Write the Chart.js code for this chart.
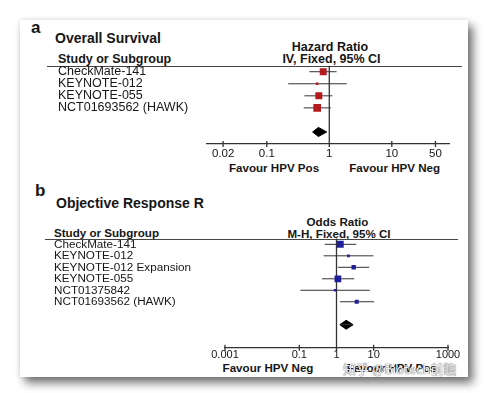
<!DOCTYPE html>
<html>
<head>
<meta charset="utf-8">
<script src="https://cdn.jsdelivr.net/npm/chart.js@4.4.1/dist/chart.umd.min.js"></script>
<style>
html, body { margin: 0; padding: 0; background: #fff; }
#page { position: relative; width: 484px; height: 393px; overflow: hidden; font-family: "Liberation Sans", Arial, sans-serif; color: #161616; }
#card { position: absolute; left: 20px; top: 20px; width: 448px; height: 357px; background: #fff;
        box-shadow: 5px 6px 9px rgba(0,0,0,0.55), 0 0 5px rgba(0,0,0,0.12); }
.t { position: absolute; white-space: nowrap; line-height: 1; }
.b { font-weight: bold; }
.c { transform: translateX(-50%); }
.rule { position: absolute; height: 0; border-top: 1.5px solid #444; }
canvas { position: absolute; left: 0; }
#wm { font-family: "Noto Sans CJK SC", sans-serif; font-size: 13px; color: rgba(255,255,255,0.9);
      text-shadow: 0 0 1px #555, 0 0 1px #555; }
</style>
</head>
<body>
<div id="page">
  <div id="card"></div>

  <div class="t b" style="left:31px;top:18.6px;font-size:17px">a</div>
  <div class="t b" style="left:55px;top:31.1px;font-size:14px">Overall Survival</div>
  <div class="t b c" style="left:330px;top:41.4px;font-size:12.5px">Hazard Ratio</div>
  <div class="t b c" style="left:331.5px;top:53.4px;font-size:12.5px">IV, Fixed, 95% CI</div>
  <div class="t b" style="left:58px;top:53.4px;font-size:12.5px">Study or Subgroup</div>
  <div class="rule" style="left:47px;top:65.5px;width:415px"></div>
  <div class="t b c" style="left:274px;top:161.9px;font-size:11.6px">Favour HPV Pos</div>
  <div class="t b c" style="left:394.7px;top:161.9px;font-size:11.6px">Favour HPV Neg</div>

  <div class="t b" style="left:35px;top:182.3px;font-size:17px">b</div>
  <div class="t b" style="left:56px;top:196.4px;font-size:14px">Objective Response R</div>
  <div class="t b c" style="left:337.5px;top:216.2px;font-size:11.6px">Odds Ratio</div>
  <div class="t b c" style="left:339px;top:227.5px;font-size:11.6px">M-H, Fixed, 95% CI</div>
  <div class="t b" style="left:54px;top:227.2px;font-size:11.6px">Study or Subgroup</div>
  <div class="rule" style="left:45px;top:238.6px;width:413px"></div>
  <div class="t b c" style="left:268px;top:361.9px;font-size:11.6px">Favour HPV Neg</div>
  <div class="t b c" style="left:391.7px;top:361.9px;font-size:11.6px">Favour HPV Pos</div>

  <canvas id="osChart" width="484" height="180" style="top:0"></canvas>
  <canvas id="orrChart" width="484" height="213" style="top:180px"></canvas>

  <div id="wm" class="t" style="left:343px;top:362px">知乎 @Biotech前瞻</div>
</div>

<script>
// panel a: overall survival, hazard ratios
const osStudies = ['CheckMate-141', 'KEYNOTE-012', 'KEYNOTE-055', 'NCT01693562 (HAWK)']
const osHR = [0.80, 0.64, 0.68, 0.64]
const osLower = [0.48, 0.22, 0.40, 0.39]
const osUpper = [1.31, 1.90, 1.12, 1.06]
const osWeight = [30, 4, 30, 36]
const osPooled = [0.67, 0.54, 0.91]   // estimate, lower, upper
const osTicks = [0.02, 0.1, 1, 10, 50]

// panel b: objective response, odds ratios
const orrStudies = ['CheckMate-141', 'KEYNOTE-012', 'KEYNOTE-012 Expansion', 'KEYNOTE-055', 'NCT01375842', 'NCT01693562 (HAWK)']
const orrOR = [1.26, 2.1, 2.9, 1.09, 0.92, 3.5]
const orrLower = [0.48, 0.45, 1.1, 0.41, 0.107, 1.23]
const orrUpper = [3.4, 9.9, 7.6, 3.0, 7.9, 10.3]
const orrWeight = [30, 5, 12, 28, 4, 10]
const orrPooled = [1.82, 1.23, 2.8]
const orrTicks = [0.001, 0.1, 1, 10, 1000]

const lineColor = '#333'

// null line at 1 and tick marks crossing the axis
const forestDecor = {
    id: 'forestDecor',
    beforeDatasetsDraw(chart) {
        const { ctx, chartArea, scales } = chart
        const x1 = scales.x.getPixelForValue(1)
        ctx.save()
        ctx.strokeStyle = lineColor
        ctx.lineWidth = 1.3
        ctx.beginPath()
        ctx.moveTo(x1, chartArea.top)
        ctx.lineTo(x1, chartArea.bottom)
        scales.x.ticks.forEach(t => {
            const px = scales.x.getPixelForValue(t.value)
            ctx.moveTo(px, chartArea.bottom - 3)
            ctx.lineTo(px, chartArea.bottom + 3)
        })
        ctx.stroke()
        ctx.restore()
    }
}

function forest(id, o) {
    const ciSets = o.studies.map((s, i) => ({
        type: 'line',
        data: [{ x: o.lower[i], y: i }, { x: o.upper[i], y: i }],
        borderColor: lineColor,
        borderWidth: 1,
        pointRadius: 0,
        order: 3
    }))
    const dRow = o.studies.length + 1
    const [est, lo, hi] = o.pooled
    const diamond = [-o.half, o.half].map(h => ({
        type: 'line',
        data: [{ x: lo, y: dRow }, { x: est, y: dRow + h }, { x: hi, y: dRow }],
        borderColor: '#000',
        backgroundColor: '#000',
        borderWidth: 1,
        pointRadius: 0,
        fill: { value: dRow },
        order: 2
    }))
    const squares = {
        type: 'scatter',
        data: o.est.map((v, i) => ({ x: v, y: i })),
        pointStyle: 'rect',
        pointRadius: o.weight.map(w => Math.sqrt(w) * 0.9),
        backgroundColor: o.color,
        borderWidth: 0,
        order: 1
    }

    return new Chart(document.getElementById(id), {
        type: 'scatter',
        data: { datasets: [squares, ...diamond, ...ciSets] },
        options: {
            responsive: false,
            animation: false,
            events: [],
            layout: { padding: { left: o.left, right: o.right, top: o.top, bottom: 0 } },
            plugins: { legend: { display: false }, tooltip: { enabled: false } },
            scales: {
                x: {
                    type: 'logarithmic',
                    min: o.min,
                    max: o.max,
                    bounds: 'data',
                    grid: { display: false, drawTicks: false },
                    border: { display: true, color: lineColor, width: 1.3 },
                    afterBuildTicks: axis => { axis.ticks = o.ticks.map(v => ({ value: v })) },
                    afterFit: axis => { axis.height = o.xHeight },
                    ticks: {
                        autoSkip: false,
                        maxRotation: 0,
                        padding: o.tickPad,
                        color: '#161616',
                        font: { family: 'Liberation Sans', size: o.tickSize },
                        callback: v => String(v)
                    }
                },
                y: {
                    type: 'linear',
                    reverse: true,
                    min: -0.5,
                    max: o.rows,
                    grid: { display: false, drawTicks: false },
                    border: { display: false },
                    afterBuildTicks: axis => { axis.ticks = o.studies.map((s, i) => ({ value: i })) },
                    afterFit: axis => { axis.width = o.yWidth },
                    ticks: {
                        autoSkip: false,
                        crossAlign: 'far',
                        padding: 0,
                        color: '#161616',
                        font: { family: 'Liberation Sans', size: o.labelSize },
                        callback: v => o.studies[v] ?? ''
                    }
                }
            }
        },
        plugins: [forestDecor]
    })
}

forest('osChart', {
    studies: osStudies, est: osHR, lower: osLower, upper: osUpper, weight: osWeight,
    pooled: osPooled, ticks: osTicks, color: '#b3191e',
    min: 0.01105, max: 82.3, rows: 6, half: 0.38,
    left: 58, right: 35, top: 65.7, xHeight: 36, yWidth: 149,
    tickPad: 2.5, tickSize: 11.5, labelSize: 12.5
})

forest('orrChart', {
    studies: orrStudies, est: orrOR, lower: orrLower, upper: orrUpper, weight: orrWeight,
    pooled: orrPooled, ticks: orrTicks, color: '#1f1f9c',
    min: 0.001, max: 1000, rows: 9, half: 0.39,
    left: 54, right: 36, top: 58.6, xHeight: 45.3, yWidth: 171,
    tickPad: 0.2, tickSize: 11, labelSize: 11.7
})
</script>
</body>
</html>
